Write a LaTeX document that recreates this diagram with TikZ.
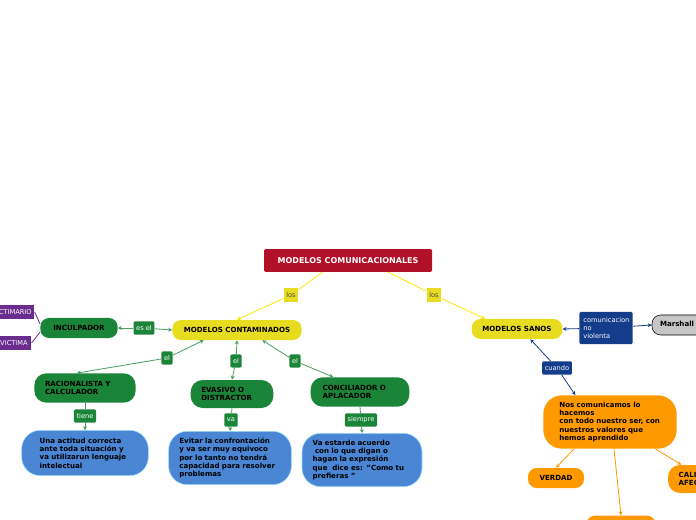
\documentclass[tikz,border=0pt]{standalone}
\usepackage{fontspec}
\setmainfont{DejaVu Sans}
\usetikzlibrary{arrows.meta}
\definecolor{tred}{HTML}{B01028}
\definecolor{tyel}{HTML}{E8DC20}
\definecolor{tgrn}{HTML}{1A8438}
\definecolor{tblu}{HTML}{4A86D4}
\definecolor{tdbl}{HTML}{133C8A}
\definecolor{tora}{HTML}{FF9900}
\definecolor{tpur}{HTML}{6A2C8E}
\begin{document}
\begin{tikzpicture}[x=0.75pt,y=-0.75pt,
 base/.style={font=\fontsize{5.3}{6.2}\selectfont\bfseries, inner sep=0pt, align=left},
 pill/.style={base, rounded corners=6.5pt, minimum height=15pt},
 lab/.style={font=\fontsize{5}{6}\selectfont, inner sep=2pt, minimum height=10pt, text=white},
 ylab/.style={lab, fill=tyel, text=black!70},
 glab/.style={lab, fill=tgrn, rounded corners=1pt},
 blab/.style={lab, fill=tdbl, rounded corners=1pt},
 ar/.style={-{Stealth[length=3pt,width=3pt]}, line width=0.6pt},
]
\useasboundingbox (0,0) rectangle (696,520);
% nodes
\node[base, fill=tred, text=white, minimum width=126pt, minimum height=17pt, align=center, rounded corners=1pt, font=\fontsize{6}{7}\selectfont\bfseries] (title) at (348,260.5) {MODELOS COMUNICACIONALES};
\node[ylab] (los1) at (291,295) {los};
\node[ylab] (los2) at (434,295) {los};
\node[pill, fill=tyel, minimum width=97pt, align=center] (cont) at (237,330) {MODELOS CONTAMINADOS};
\node[pill, fill=tyel, minimum width=68pt, align=center] (sanos) at (517,329) {MODELOS SANOS};
\node[pill, fill=tgrn, minimum width=58pt, align=center] (inc) at (79,328) {INCULPADOR};
\node[glab] (esel) at (144,328) {es el};
\node[lab, fill=tpur, minimum width=30pt] (victi) at (12,312) {VICTIMARIO};
\node[lab, fill=tpur, minimum width=26pt] (vict) at (14,343) {VICTIMA};
\node[glab] (el1) at (167,358) {el};
\node[glab] (el2) at (236,361) {el};
\node[glab] (el3) at (295,361) {el};
\node[pill, fill=tgrn, minimum width=76pt, minimum height=22pt, text width=60pt, rounded corners=9pt] (rac) at (85,388) {RACIONALISTA Y\\CALCULADOR};
\node[pill, fill=tgrn, minimum width=62pt, minimum height=21pt, text width=46pt, rounded corners=9pt] (eva) at (232,394) {EVASIVO O\\DISTRACTOR};
\node[pill, fill=tgrn, minimum width=74pt, minimum height=22pt, text width=56pt, rounded corners=9pt] (con) at (360,392) {CONCILIADOR O\\APLACADOR};
\node[glab] (tiene) at (85,416) {tiene};
\node[glab] (va) at (231,420) {va};
\node[glab] (siem) at (361,420) {siempre};
\node[pill, fill=tblu, draw=cyan!40, minimum width=95pt, minimum height=34pt, text width=68pt, rounded corners=14pt] (b1) at (85,453) {Una actitud correcta\\ante toda situación y\\va utilizarun lenguaje\\intelectual};
\node[pill, fill=tblu, draw=cyan!40, minimum width=92pt, minimum height=40pt, text width=76pt, rounded corners=14pt] (b2) at (230,458) {Evitar la confrontación\\y va ser muy equivoco\\por lo tanto no tendrá\\capacidad para resolver\\problemas};
\node[pill, fill=tblu, draw=cyan!40, minimum width=90pt, minimum height=40pt, text width=74pt, rounded corners=14pt] (b3) at (362,460) {Va estarde acuerdo\\ \ con lo que digan o\\hagan la expresión\\que \ dice es: "Como tu\\prefieras "};
\node[blab, font=\fontsize{5}{6}\selectfont, align=left, minimum width=40pt, minimum height=24pt, text width=34pt] (cnv) at (606,328) {comunicacion\\no\\violenta};
\node[pill, fill=gray!45, draw=black, minimum width=78pt, text width=66pt] (mar) at (704,325) {Marshall Rosenberg};
\node[blab] (cuando) at (557,368) {cuando};
\node[pill, fill=tora, minimum width=100pt, minimum height=40pt, text width=76pt, rounded corners=14pt] (nos) at (610,422) {Nos comunicamos lo\\hacemos\\con todo nuestro ser, con\\nuestros valores que\\hemos aprendido};
\node[pill, fill=tora, minimum width=42pt, align=center] (ver) at (556,478) {VERDAD};
\node[pill, fill=tora, minimum width=60pt, minimum height=21pt, text width=44pt, rounded corners=9pt] (cal) at (708,479) {CALIDEZ\\AFECTO};
\node[pill, fill=tora, minimum width=52pt, minimum height=14pt] (bot) at (621,525) {};
% connectors
\draw[yellow!90!orange, line width=0.6pt] ([xshift=-19]title.south) -- (los1);
\draw[ar, yellow!90!orange] (los1) -- (cont.north);
\draw[yellow!90!orange, line width=0.6pt] ([xshift=30]title.south) -- (los2);
\draw[ar, yellow!90!orange] (los2) -- ([xshift=-24]sanos.north);
\begin{scope}[tgrn!80!white]
\draw[ar] (esel) -- (cont.west);
\draw[ar] (esel) -- (inc.east);
\draw[ar] (el1) -- ([xshift=-25]cont.south);
\draw[ar] (el1) -- ([xshift=-6]rac.north);
\draw[ar] (el2) -- (cont.south);
\draw[ar] (el2) -- (eva.north);
\draw[ar] (el3) -- ([xshift=19]cont.south);
\draw[ar] (el3) -- ([xshift=-20]con.north);
\draw[line width=0.6pt] (rac.south) -- (tiene);
\draw[ar] (tiene) -- (b1.north);
\draw[line width=0.6pt] (eva.south) -- (va);
\draw[ar] (va) -- (b2.north);
\draw[line width=0.6pt] (con.south) -- (siem);
\draw[ar] (siem) -- (b3.north);
\end{scope}
\draw[tpur, line width=0.6pt] (victi.east) -- ([yshift=3]inc.west);
\draw[tpur, line width=0.6pt] (vict.east) -- ([yshift=-3]inc.west);
\draw[ar, tdbl] (cnv) -- (sanos.east);
\draw[ar, tdbl] (cnv) -- (mar.west);
\draw[ar, tdbl] (cuando) -- ([xshift=10]sanos.south);
\draw[ar, tdbl] (cuando) -- ([xshift=-26]nos.north);
\draw[ar, tora] ([xshift=-27]nos.south) -- (ver.north);
\draw[ar, tora] ([xshift=3]nos.south) -- (bot.north);
\draw[ar, tora] ([xshift=34]nos.south) -- ([xshift=-20]cal.north);
\end{tikzpicture}
\end{document}
